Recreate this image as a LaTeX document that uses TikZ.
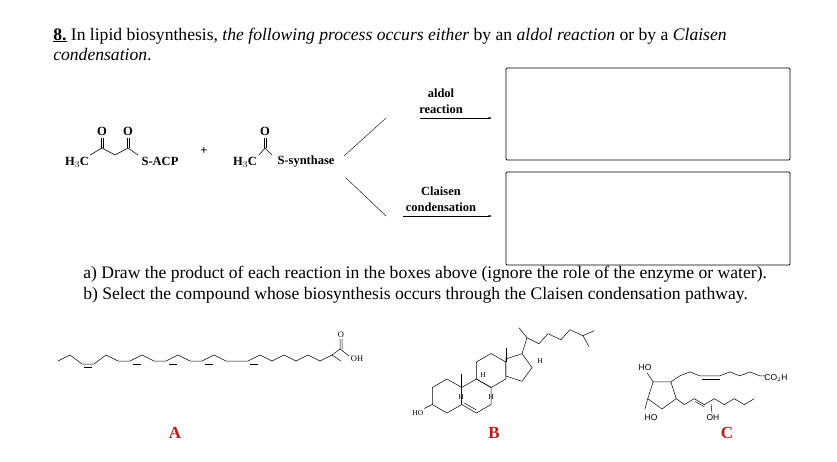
\documentclass[tikz,border=0pt]{standalone}
\usepackage{fontspec}
\setmainfont{Liberation Serif}
\newfontfamily\arialf{Liberation Sans}
\usetikzlibrary{arrows.meta}
\begin{document}
\begin{tikzpicture}[x=1pt,y=-1pt,line width=0.6pt,
  chem/.style={font=\bfseries\fontsize{12.5}{13}\selectfont,inner sep=1pt},
  sm/.style={font=\arialf\fontsize{8.5}{9}\selectfont,inner sep=0.5pt},
  lab/.style={font=\bfseries\fontsize{12.5}{16}\selectfont,align=center},
  big/.style={font=\fontsize{17.6}{20}\selectfont,inner sep=0pt,anchor=base west},
  ltr/.style={font=\bfseries\fontsize{17}{18}\selectfont,text={rgb,255:red,180;green,30;blue,30}},
  bx/.style={draw,line width=0.8pt,rounded corners=1pt}]
\useasboundingbox (0,0) rectangle (837,461);
\node[big] (h1) at (53,40) {\underline{\textbf{8.}} In lipid biosynthesis, \textit{the following process occurs either} by an \textit{aldol reaction} or by a \textit{Claisen}};
\node[big] (h2) at (53,60) {\textit{condensation}.};
% boxes
\node[bx,minimum width=284pt,minimum height=92pt] (b1) at (648,114) {};
\node[bx,minimum width=284pt,minimum height=93pt] (b2) at (648,218.5) {};
% reactants
\node[chem] (h3c1) at (77,162) {H$_3$C};
\coordinate (p1) at (90,155); \coordinate (p2) at (102,148); \coordinate (p3) at (115,155); \coordinate (p4) at (128,148); \coordinate (p5) at (138,155);
\draw (p1)--(p2)--(p3)--(p4)--(p5);
\draw (101,148)--(101,138) (103,148)--(103,138);
\draw (127,148)--(127,138) (129,148)--(129,138);
\node[chem] (o1) at (102,131) {O};
\node[chem] (o2) at (128,131) {O};
\node[chem] (sacp) at (160,161) {S-ACP};
\node[chem] (plus) at (204,151) {+};
\node[chem] (h3c2) at (245,162) {H$_3$C};
\coordinate (q1) at (259,155); \coordinate (q2) at (265,148); \coordinate (q3) at (272,155);
\draw (q1)--(q2)--(q3);
\draw (264,148)--(264,138) (266,148)--(266,138);
\node[chem] (o3) at (265,131) {O};
\node[chem] (ssyn) at (306,162) {S-synthase};
% arrows
\coordinate (t1) at (344,156); \coordinate (t2) at (386,118); \coordinate (t3) at (492,118);
\coordinate (u1) at (346,178); \coordinate (u2) at (386,216); \coordinate (u3) at (492,216);
\draw[line width=0.4pt] (t1)--(t2);
\draw[line width=0.4pt,-{Stealth[length=4pt,width=2pt]}] (420,118)--(t3);
\draw[line width=0.4pt] (u1)--(u2);
\draw[line width=0.4pt,-{Stealth[length=4pt,width=2pt]}] (403,216)--(u3);
\node[lab] (al) at (441,101) {aldol\\reaction};
\node[lab] (cl) at (441,199) {Claisen\\condensation};
\node[big] (qa) at (83,278) {a) Draw the product of each reaction in the boxes above (ignore the role of the enzyme or water).};
\node[big] (qb) at (83,299) {b) Select the compound whose biosynthesis occurs through the Claisen condensation pathway.};
% A: polyunsaturated fatty acid
\draw[line width=0.5pt] (58,361)--(70,355)--(82,364)--(94,364)--(106,355)--(118,361)--(130,361)--(142,355)--(154,361)--(166,361)--(178,355)--(190,361)--(202,361)--(214,355)--(226,361)--(248,361)--(260,355)--(272,361)--(284,355)--(296,361)--(308,355)--(320,361)--(332,355)--(341,361);
\draw[line width=0.5pt] (84,367)--(92,367) (133,364)--(141,364) (169,364)--(177,364) (205,364)--(213,364) (250,364)--(258,364);
\draw[line width=0.5pt] (332,355)--(340,349) (340,349)--(340,339) (342,349)--(342,339) (340,349)--(349,356);
\node[font=\fontsize{8.5}{9}\selectfont,inner sep=0.5pt] (oA) at (341,335) {O};
\node[font=\fontsize{8.5}{9}\selectfont,inner sep=0.5pt] (ohA) at (357,359) {OH};
\node[ltr] (A) at (175,433) {A};
% B: steroid
\begin{scope}[line width=0.5pt]
\def\s{17}
\coordinate (cA) at (447,396); \coordinate (cB) at (476.4,396); \coordinate (cC) at (491.1,370.5); \coordinate (cD) at (517.5,367.5);
\foreach \c in {cA,cB,cC}{\draw[shift={(\c)}] (30:\s)--(90:\s)--(150:\s)--(210:\s)--(270:\s)--(330:\s)--cycle;}
\draw[shift={(cD)}] (144:14.5)--(216:14.5)--(288:14.5)--(0:14.5)--(72:14.5)--cycle;
\draw[shift={(cB)}] (150:14)--(90:14);
\draw[shift={(cA)}] (-30:\s)--++(0,-14);
\draw[shift={(cC)}] (-30:\s)--++(0,-14);
\draw[shift={(cD)}] (288:14.5)--++(5,-16) coordinate (s1);
\draw (s1)--++(-8,-10) (s1)--++(12,6)--++(9,-10)--++(13,6)--++(9,-10)--++(13,6)--++(6,11) ++(-6,-11)--++(11,-5);
\draw[shift={(cA)}] (150:\s)--++(-8,4);
\node[font=\fontsize{7.5}{8}\selectfont,inner sep=0.5pt,anchor=east] (ho) at (424,413) {HO};
\node[font=\fontsize{7.5}{8}\selectfont,inner sep=0.5pt] (hb1) at (483,375) {H};
\node[font=\fontsize{7.5}{8}\selectfont,inner sep=0.5pt] (hb2) at (461,397) {H};
\node[font=\fontsize{7.5}{8}\selectfont,inner sep=0.5pt] (hb3) at (491,397) {H};
\node[font=\fontsize{7.5}{8}\selectfont,inner sep=0.5pt] (hb4) at (540,361) {H};
\end{scope}
\node[ltr] (B) at (494,433) {B};
% C: prostaglandin
\begin{scope}[line width=0.5pt]
\coordinate (cP) at (662,394);
\draw[shift={(cP)}] (-54:15)--(18:15)--(90:15)--(162:15)--(234:15)--cycle;
\draw[shift={(cP)}] (234:15)--++(-6,-9);
\draw[shift={(cP)}] (162:15)--++(-3,11);
\draw[shift={(cP)}] (-54:15)--++(9,-6) coordinate (r1);
\draw (r1)--++(10,-4)--++(10,4) (r1)++(10,-4)++(10,4)--++(20,0)--++(10,-4)--++(10,4)--++(10,-4)--++(10,4)--++(6,0);
\draw (r1)++(22,3)--++(18,0);
\draw[shift={(cP)}] (18:15)--++(8,6) coordinate (r2);
\draw (r2)--++(10,-6)--++(10,6)--++(10,-6)--++(10,6)--++(10,-6)--++(10,6)--++(10,-6);
\draw (r2)++(11,-3)--++(9,5);
\node[sm] (ho1) at (645,368) {HO};
\node[sm] (ho2) at (651,418) {HO};
\node[sm] (oh3) at (713,418) {OH};
\draw (711,404)--(712,413);
\node[sm] (co2h) at (776,378) {CO$_2$H};
\end{scope}
\node[ltr] (C) at (727,433) {C};
\end{tikzpicture}
\end{document}
